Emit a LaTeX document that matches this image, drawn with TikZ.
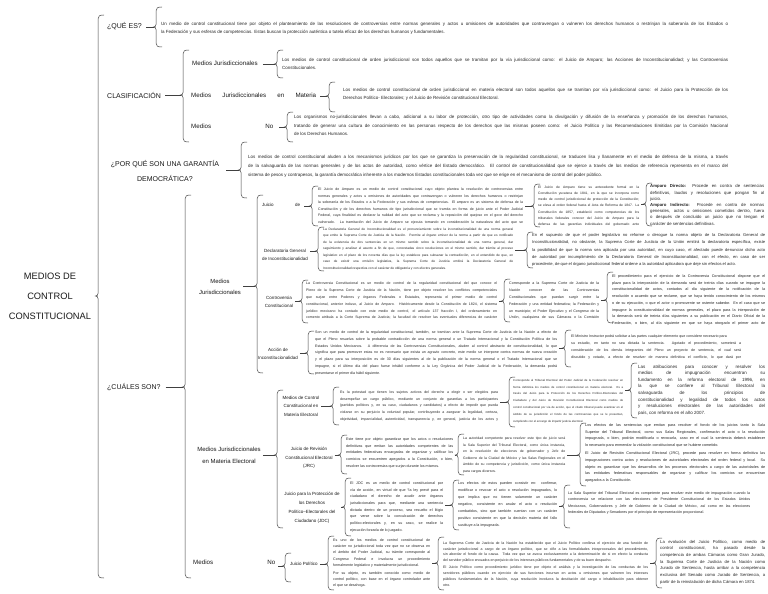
\documentclass[tikz,border=0pt]{standalone}
\usepackage{fontspec}
\setmainfont{Liberation Sans}
\usetikzlibrary{calc}
\hyphenpenalty=10000 \exhyphenpenalty=10000 \tolerance=9999 \emergencystretch=4pt
\newcommand\fs[2]{\fontsize{#1pt}{#2pt}\selectfont}
\newcommand\fillend{\unskip\parfillskip=0pt\par}
\tikzset{
 brc/.style={draw=black!75, line width=0.5pt},
 dsh/.style={draw=black!75, line width=0.5pt},
 tx/.style={anchor=west, inner xsep=0pt, inner ysep=1pt, align=justify, text=black!85},
 lb/.style={inner sep=0pt, align=center, text=black!90},
}
\newcommand\Brace[5]{%
 \coordinate (#1) at (#2-2.5,#5);
 \draw[brc] (#2+6,#3) .. controls (#2+1.5,#3) and (#2,#3+1) .. (#2,#3+4) -- (#2,#5-2.5) .. controls (#2,#5-0.8) and (#2-1,#5) .. (#1) .. controls (#2-1,#5) and (#2,#5+0.8) .. (#2,#5+2.5) -- (#2,#4-4) .. controls (#2,#4-1) and (#2+1.5,#4) .. (#2+6,#4);}
\newcommand\Dash[3]{\draw[dsh] ($(#1.east |- #2)+(#3,0)$) -- (#2);}
\begin{document}
\begin{tikzpicture}[x=1pt,y=-1pt]
\fill[white] (0,0) rectangle (768,594);
\useasboundingbox (0,0) rectangle (768,594);

% root
\node[lb, font=\fs{9.3}{20}] (root) at (50,296) {MEDIOS DE\\CONTROL\\CONSTITUCIONAL};
\Brace{b0}{98}{15}{578}{296}

% level 1 labels
\node[lb, anchor=west, font=\fs{7}{9}] (qes) at (107,26) {¿QUÉ ES?};
\node[lb, anchor=west, font=\fs{7}{9}] (clas) at (107,95) {CLASIFICACIÓN};
\node[lb, font=\fs{7}{15}] (por) at (165,170.5) {¿POR QUÉ SON UNA GARANTÍA\\DEMOCRÁTICA?};
\node[lb, anchor=west, font=\fs{7}{9}] (cual) at (107,387) {¿CUÁLES SON?};

% QUE ES
\Brace{bqes}{156}{7}{47}{27}
\Dash{qes}{bqes}{4}
\node[tx, text width=567pt, font=\fs{4.5}{8}] (queT) at (161,28) {Un medio de control constitucional tiene por objeto el planteamiento de las resoluciones de controversias entre normas generales y actos u omisiones de autoridades que contravengan o vulneren los derechos humanos o restrinjan la soberanía de los Estados o\linebreak la Federación y sus esferas de competencias. Estas buscan la protección auténtica o tutela eficaz de los derechos humanos y fundamentales.};

% CLASIFICACION
\Brace{bclas}{183}{50}{142}{95}
\Dash{clas}{bclas}{4}
\node[lb, anchor=west, font=\fs{6.2}{8}] (c1) at (192,63) {Medios Jurisdiccionales};
\node[lb, anchor=west, font=\fs{6.2}{8}] (c2) at (191,95) {\makebox[125pt][s]{Medios Jurisdiccionales en Materia}};
\node[lb, anchor=west, font=\fs{6.2}{8}] (c3) at (191,126) {\makebox[82pt][s]{Medios No}};
\Brace{bc1}{277}{50}{78}{64}
\Dash{c1}{bc1}{5}
\Brace{bc2}{329}{82}{112}{96}
\Dash{c2}{bc2}{4}
\Brace{bc3}{287}{112}{142}{127}
\Dash{c3}{bc3}{6}
\node[tx, text width=446pt, font=\fs{4.5}{8}] (c1T) at (282,64) {Los medios de control constitucional de orden jurisdiccional son todos aquellos que se tramitan por la vía jurisdiccional como: el Juicio de Amparo; las Acciones de Inconstitucionalidad; y las Controversias\linebreak Constitucionales.};
\node[tx, text width=385pt, font=\fs{4.5}{8}] (c2T) at (343,94) {Los medios de control constitucional de orden jurisdiccional en materia electoral son todos aquellos que se tramitan por vía jurisdiccional como: el Juicio para la Protección de los\linebreak Derechos Político- Electorales; y el Juicio de Revisión constitucional Electoral.};
\node[tx, text width=434pt, font=\fs{4.5}{8.5}] (c3T) at (294,125.5) {Los organismos no-jurisdiccionales llevan a cabo, adicional a su labor de protección, otro tipo de actividades como la divulgación y difusión de la enseñanza y promoción de los derechos humanos,\linebreak tratando de generar una cultura de conocimiento en las personas respecto de los derechos que las mismas poseen como: el Juicio Político y las Recomendaciones Emitidas por la Comisión Nacional\linebreak de los Derechos Humanos.};

% POR QUE
\Brace{bpor}{241}{142}{198}{170}
\Dash{por}{bpor}{7}
\node[tx, text width=480pt, font=\fs{4.5}{9}] (porT) at (248,166) {Los medios de control constitucional aluden a los mecanismos jurídicos por los que se garantiza la preservación de la regularidad constitucional, se traducen lisa y llanamente en el medio de defensa de la misma, a través\linebreak de la salvaguarda de las normas generales y de los actos de autoridad, como vértice del Estado democrático. El control de constitucionalidad que se ejerce a través de los medios de referencia representa en el marco del\linebreak sistema de pesos y contrapesos, la garantía democrática inherente a los modernos Estados constitucionales toda vez que se erige en el mecanismo de control del poder público.};

% CUALES SON
\Brace{bcual}{185}{195}{578}{387}
\Dash{cual}{bcual}{5}

% -- Medios jurisdiccionales
\node[lb, font=\fs{5.9}{11}] (mj) at (220,286.5) {Medios\\Jurisdiccionales};
\Brace{bmj}{257}{195}{373}{286}
\Dash{mj}{bmj}{2}

\node[lb, anchor=west, font=\fs{4.5}{6}] (ja) at (262,205) {\makebox[38pt][s]{Juicio de}};
\Brace{bja}{312}{186}{226}{206}
\Dash{ja}{bja}{4}
\node[tx, text width=205pt, font=\fs{3.55}{6.6}] (ja1) at (318,206) {El Juicio de Amparo es un medio de control constitucional cuyo objeto plantea la resolución de controversias entre\linebreak normas generales y actos u omisiones de autoridades que contravengan o vulneren los derechos humanos o restrinjan\linebreak la soberanía de los Estados o a la Federación y sus esferas de competencias. El amparo es un sistema de defensa de la\linebreak Constitución y de los derechos humanos de tipo jurisdiccional que se tramita en forma de juicio ante el Poder Judicial\linebreak Federal, cuya finalidad es declarar la nulidad del acto que se reclama y la reposición del quejoso en el goce del derecho\linebreak vulnerado. La tramitación del Juicio de Amparo se ejecuta tomando en consideración la naturaleza del acto que se\fillend};
\Brace{bja2}{534}{184}{227}{206}
\Dash{ja1}{bja2}{2}
\node[tx, text width=101pt, font=\fs{3.35}{6.2}] (ja2) at (538,206) {El Juicio de Amparo tiene su antecedente formal en la\linebreak Constitución yucateca de 1841, en la que se incorpora como\linebreak medio de control jurisdiccional de protección de la Constitución;\linebreak se eleva al orden federal hasta el Acta de Reforma de 1847. La\linebreak Constitución de 1857, estableció como competencias de los\linebreak tribunales federales conocer del Juicio de Amparo para la\linebreak defensa de las garantías individuales del gobernado ante\fillend};
\Brace{bja3}{646}{183}{226}{204}
\Dash{ja2}{bja3}{2}
\node[tx, text width=114pt, font=\fs{4.3}{6.2}] (ja3) at (650,205) {\textbf{Amparo Directo:} Procede en contra de sentencias\linebreak definitivas, laudos y resoluciones que pongan fin al\linebreak juicio.\par\textbf{Amparo Indirecto:} Procede en contra de normas\linebreak generales, actos u omisiones cometidos dentro, fuera\linebreak o después de concluido un juicio que no tengan el\linebreak carácter de sentencias definitivas.};

\node[lb, font=\fs{4.5}{8}] (dg) at (285,255) {Declaratoria General\\de Inconstitucionalidad};
\Brace{bdg}{318}{227}{271}{251}
\Dash{dg}{bdg}{2}
\node[tx, text width=190pt, font=\fs{3.25}{6.5}] (dg1) at (323,249) {La Declaratoria General de Inconstitucionalidad es el pronunciamiento sobre la inconstitucionalidad de una norma general\linebreak que emite la Suprema Corte de Justicia de la Nación. Permite al órgano emisor de la norma a partir de que es notificado\linebreak de la existencia de dos sentencias en un mismo sentido sobre la inconstitucionalidad de una norma general, dar\linebreak seguimiento y analizar el asunto a fin de que, concretadas cinco resoluciones en el mismo sentido, dar trámite al proceso\linebreak legislativo en el plazo de los noventa días que la ley establece para subsanar la contradicción, en el entendido de que, en\linebreak caso de existir una omisión legislativa, la Suprema Corte de Justicia emitirá la Declaratoria General de\linebreak Inconstitucionalidad respectiva con el carácter de obligatoria y con efectos generales.};
\Brace{bdg2}{527}{232}{268}{250}
\Dash{dg1}{bdg2}{2}
\node[tx, text width=233pt, font=\fs{4.1}{7.2}] (dg2) at (532,250) {En el supuesto de que el poder legislativo no reforme o derogue la norma objeto de la Declaratoria General de\linebreak Inconstitucionalidad, no obstante, la Suprema Corte de Justicia de la Unión emitirá la declaratoria específica, existe\linebreak la posibilidad de que la norma sea aplicada por una autoridad, en cuyo caso, el afectado puede denunciar dicho acto\linebreak de autoridad por incumplimiento de la Declaratoria General de Inconstitucionalidad, con el efecto, en caso de ser\linebreak procedente, de que el órgano jurisdiccional federal ordene a la autoridad aplicadora que deje sin efectos el acto.};

\node[lb, font=\fs{4.5}{8}] (cc) at (279,302) {Controversia\\Constitucional};
\Brace{bcc}{302}{280}{323}{301}
\Dash{cc}{bcc}{2}
\node[tx, text width=191pt, font=\fs{3.55}{6.8}] (cc1) at (306,301) {La Controversia Constitucional es un medio de control de la regularidad constitucional del que conoce el\linebreak Pleno de la Suprema Corte de Justicia de la Nación, tiene por objeto resolver los conflictos competenciales\linebreak que surjan entre Poderes y órganos Federales o Estatales, representa el primer medio de control\linebreak constitucional, anterior incluso, al Juicio de Amparo. Históricamente desde la Constitución de 1824, el sistema\linebreak jurídico mexicano ha contado con este medio de control, el artículo 137 fracción I, del ordenamiento en\linebreak comento atribuía a la Corte Suprema de Justicia; la facultad de resolver las eventuales diferencias de carácter\fillend};
\Brace{bcc2}{504}{279}{322}{301}
\Dash{cc1}{bcc2}{2}
\node[tx, text width=90pt, font=\fs{3.6}{6.8}] (cc2) at (509,301) {Corresponde a la Suprema Corte de Justicia de la\linebreak Nación conocer de las Controversias\linebreak Constitucionales que puedan surgir entre la\linebreak Federación y una entidad federativa; la Federación y\linebreak un municipio; el Poder Ejecutivo y el Congreso de la\linebreak Unión, cualquiera de sus Cámaras o la Comisión\fillend};
\Brace{bcc3}{607}{272}{323}{300}
\Dash{cc2}{bcc3}{2}
\node[tx, text width=153pt, font=\fs{3.75}{6.7}] (cc3) at (612,300) {El procedimiento para el ejercicio de la Controversia Constitucional dispone que el\linebreak plazo para la interposición de la demanda será de treinta días cuando se impugne la\linebreak constitucionalidad de actos, contados al día siguiente de la notificación de la\linebreak resolución o acuerdo que se reclame, que se haya tenido conocimiento de los mismos\linebreak o de su ejecución, o que el actor o promovente se ostente sabedor. En el caso que se\linebreak impugne la constitucionalidad de normas generales, el plazo para la interposición de\linebreak la demanda será de treinta días siguientes a su publicación en el Diario Oficial de la\linebreak Federación, o bien, al día siguiente en que se haya otorgado el primer acto de\fillend};

\node[lb, font=\fs{4.5}{8}] (ai) at (278,354) {Acción de\\Inconstitucionalidad};
\Brace{bai}{308}{331}{374}{353}
\Dash{ai}{bai}{2}
\node[tx, text width=242pt, font=\fs{3.6}{6.7}] (ai1) at (315,353) {Son un medio de control de la regularidad constitucional, también, se tramitan ante la Suprema Corte de Justicia de la Nación a efecto de\linebreak que el Pleno resuelva sobre la probable contradicción de una norma general o un Tratado Internacional y la Constitución Política de los\linebreak Estados Unidos Mexicanos. A diferencia de las Controversias Constitucionales, aluden al control abstracto de constitucionalidad, lo que\linebreak significa que para promover estas no es necesario que exista un agravio concreto, este medio se interpone contra normas de nueva creación\linebreak y el plazo para su interposición es de 30 días siguientes al de la publicación de la norma general o el Tratado Internacional que se\linebreak impugne, si el último día del plazo fuese inhábil conforme a la Ley Orgánica del Poder Judicial de la Federación, la demanda podrá\linebreak presentarse el primer día hábil siguiente.};
\Brace{bai2}{565}{330}{367}{348}
\Dash{ai1}{bai2}{2}
\node[tx, text width=170pt, font=\fs{3.6}{6.7}] (ai2) at (571,347) {El Ministro Instructor podrá solicitar a las partes cualquier elemento que considere necesario para\\ su estudio, en tanto no sea dictada la sentencia. Agotado el procedimiento, someterá a\linebreak consideración de los demás integrantes del Pleno un proyecto de sentencia, el cual será\linebreak discutido y votado, a efecto de resolver de manera definitiva el conflicto, lo que dará por\fillend};

% -- Medios jurisdiccionales en materia electoral
\node[lb, font=\fs{6}{12}] (mje) at (229,455) {Medios Jurisdiccionales\\en Materia Electoral};
\Brace{bmje}{277}{390}{528}{455}
\Dash{mje}{bmje}{2}

\node[lb, font=\fs{4.5}{8.5}] (mce) at (301,406) {Medios de Control\\Constitucional en\\Materia Electoral};
\Brace{bmce}{333}{387}{425}{406}
\Dash{mce}{bmce}{2}
\node[tx, text width=158pt, font=\fs{3.55}{6.6}] (mce1) at (340,406) {Es la potestad que tienen los sujetos activos del derecho a elegir o ser elegidos para\linebreak desempeñar un cargo público, mediante un conjunto de garantías a los participantes\linebreak (partidos políticos y, en su caso, ciudadanos y candidatos) a efecto de impedir que pueda\linebreak violarse en su perjuicio la voluntad popular, contribuyendo a asegurar la legalidad, certeza,\linebreak objetividad, imparcialidad, autenticidad, transparencia y, en general, justicia de los actos y\fillend};
\Brace{bmce2}{509}{377}{427}{402}
\Dash{mce1}{bmce2}{2}
\node[tx, text width=110pt, font=\fs{2.85}{6.8}] (mce2) at (513,401) {Corresponde al Tribunal Electoral del Poder Judicial de la Federación resolver en\linebreak forma definitiva los medios de control constitucional en materia electoral. Es a\linebreak través del Juicio para la Protección de los Derechos Político-Electorales del\linebreak Ciudadano y del Juicio de Revisión Constitucional Electoral como medios de\linebreak control constitucional por vía de acción, que el citado tribunal puede examinar en el\linebreak ámbito de su jurisdicción el fondo de las controversias que se le presentan,\linebreak cumpliendo con el encargo de impartir justicia electoral.};
\Brace{bmce3}{631}{363}{418}{390}
\Dash{mce2}{bmce3}{2}
\node[tx, text width=127pt, font=\fs{4.5}{6.6}] (mce3) at (638,390) {Las atribuciones para conocer y resolver los\linebreak medios de impugnación encuentran su\linebreak fundamento en la reforma electoral de 1996, en\linebreak la que se confiere al Tribunal Electoral la\linebreak salvaguarda de los principios de\linebreak constitucionalidad y legalidad de todos los actos\linebreak y resoluciones electorales de las autoridades del\linebreak país, con reforma en el año 2007.};

\node[lb, font=\fs{4.5}{8.5}] (jrc) at (309,458) {Juicio de Revisión\\Constitucional Electoral\\(JRC)};
\Brace{bjrc}{341}{435}{474}{455}
\Dash{jrc}{bjrc}{2}
\node[tx, text width=107pt, font=\fs{3.65}{6.7}] (jrc1) at (346,453) {Este tiene por objeto garantizar que los actos o resoluciones\linebreak definitivas que emitan las autoridades competentes de las\linebreak entidades federativas encargadas de organizar y calificar los\linebreak comicios se encuentren apegados a la Constitución, o bien,\linebreak resolver las controversias que surjan durante los mismos.};
\Brace{bjrc2}{458}{434}{475}{455}
\Dash{jrc1}{bjrc2}{2}
\node[tx, text width=102pt, font=\fs{3.45}{6.6}] (jrc2) at (463,455) {La autoridad competente para resolver este tipo de juicio será\linebreak la Sala Superior del Tribunal Electoral, como única instancia,\linebreak en la resolución de elecciones de gobernador y Jefe de\linebreak Gobierno de la Ciudad de México y las Salas Regionales en el\linebreak ámbito de su competencia y jurisdicción, como única instancia\linebreak para cargos diversos.};
\Brace{bjrc3}{580}{423}{486}{455}
\Dash{jrc2}{bjrc3}{2}
\node[tx, text width=180pt, font=\fs{3.75}{6.7}] (jrc3) at (585,453) {Los efectos de las sentencias que emitan para resolver el fondo de los juicios tanto la Sala\linebreak Superior del Tribunal Electoral, como sus Salas Regionales, confirmarán el acto o la resolución\linebreak impugnada, o bien, podrán modificarla o revocarla, caso en el cual la sentencia deberá establecer\linebreak lo necesario para enmendar la violación constitucional que se hubiere cometido.\par\vspace{1.5pt}El Juicio de Revisión Constitucional Electoral (JRC), procede para resolver en forma definitiva las\linebreak impugnaciones contra actos y resoluciones de autoridades electorales del orden federal y local. Su\linebreak objeto es garantizar que los desarrollos de los procesos electorales a cargo de las autoridades de\linebreak las entidades federativas responsables de organizar y calificar los comicios se encuentran\linebreak apegados a la Constitución.};

\node[lb, font=\fs{4.5}{9}] (jdc) at (312,508) {Juicio para la Protección de\\los Derechos\\Político–Electorales del\\Ciudadano (JDC)};
\Brace{bjdc}{345}{478}{536}{507}
\Dash{jdc}{bjdc}{1}
\node[tx, text width=93pt, font=\fs{3.65}{6.7}] (jdc1) at (350,507) {El JDC es un medio de control constitucional por\linebreak vía de acción, en virtud de que “la ley prevé para el\linebreak ciudadano el derecho de acudir ante órganos\linebreak jurisdiccionales para que, mediante una sentencia\linebreak dictada dentro de un proceso, sea resuelto el litigio\linebreak que verse sobre la conculcación de derechos\linebreak político-electorales y, en su caso, se realice la\linebreak ejecución forzada de lo juzgado.};
\Brace{bjdc2}{453}{480}{530}{505}
\Dash{jdc1}{bjdc2}{2}
\node[tx, text width=99pt, font=\fs{3.65}{7}] (jdc2) at (458,505) {Los efectos de estos pueden consistir en: confirmar,\linebreak modificar o revocar el acto o resolución impugnados, lo\linebreak que implica que no tienen solamente un carácter\linebreak negativo, consistente en anular el acto o resolución\linebreak combatidos, sino que también cuentan con un carácter\linebreak positivo consistente en que la decisión materia del fallo\linebreak sustituye a la impugnada.};
\Brace{bjdc3}{564}{485}{528}{506}
\Dash{jdc2}{bjdc3}{2}
\node[tx, text width=182pt, font=\fs{3.65}{6.2}] (jdc3) at (568,503) {La Sala Superior del Tribunal Electoral es competente para resolver este medio de impugnación cuando la\linebreak controversia se relacione con las elecciones de Presidente Constitucional de los Estados Unidos\linebreak Mexicanos, Gobernadores y Jefe de Gobierno de la Ciudad de México, así como en las elecciones\linebreak federales de Diputados y Senadores por el principio de representación proporcional.};

% -- Medios no jurisdiccionales
\node[lb, anchor=west, font=\fs{6.2}{8}] (mn) at (193,562) {\makebox[82pt][s]{Medios No}};
\Brace{bmn}{285}{553}{582}{566}
\Dash{mn}{bmn}{3}
\node[lb, anchor=west, font=\fs{4.5}{6}] (jp) at (290,564) {Juicio Político};
\Brace{bjp}{328}{536}{590}{564}
\Dash{jp}{bjp}{2}
\node[tx, text width=97pt, font=\fs{3.6}{6.3}] (jp1) at (333,563) {Es uno de los medios de control constitucional de\linebreak carácter no jurisdiccional toda vez que no se observa en\linebreak el ámbito del Poder Judicial, su trámite corresponde al\linebreak Congreso Federal e involucra un procedimiento\linebreak formalmente legislativo y materialmente jurisdiccional.\par\vspace{1.5pt}Por su objeto, es también conocido como medio de\linebreak control político, con base en el órgano controlador ante\linebreak el que se desahoga.};
\Brace{bjp2}{438}{537}{590}{563}
\Dash{jp1}{bjp2}{2}
\node[tx, text width=205pt, font=\fs{3.55}{5.8}] (jp2) at (443,564) {La Suprema Corte de Justicia de la Nación ha establecido que el Juicio Político conlleva el ejercicio de una función de\linebreak carácter jurisdiccional a cargo de un órgano político, que se ciñe a las formalidades intraprocesales del procedimiento,\linebreak sin abordar el fondo de la causa. Toda vez que se avoca exclusivamente a la determinación de si en efecto la conducta\linebreak del servidor público encuadra en perjuicio de los intereses públicos fundamentales y de su buen despacho.\par\vspace{1.5pt}El Juicio Político como procedimiento jurídico tiene por objeto el análisis y la investigación de las conductas de los\linebreak servidores públicos cuando en ejercicio de sus funciones incurran en actos u omisiones que vulneren los intereses\linebreak públicos fundamentales de la Nación, cuya resolución involucra la destitución del cargo o inhabilitación para obtener\linebreak otro.};
\Brace{bjp3}{656}{538}{588}{563}
\Dash{jp2}{bjp3}{2}
\node[tx, text width=105pt, font=\fs{4.2}{6.7}] (jp3) at (660,562) {La evolución del Juicio Político, como medio de\linebreak control constitucional, ha pasado desde la\linebreak competencia de ambas Cámaras como Gran Jurado,\linebreak la Suprema Corte de Justicia de la Nación como\linebreak Jurado de Sentencia, hasta arribar a la competencia\linebreak exclusiva del Senado como Jurado de Sentencia, a\linebreak partir de la reinstalación de dicha Cámara en 1874.};
\end{tikzpicture}
\end{document}
